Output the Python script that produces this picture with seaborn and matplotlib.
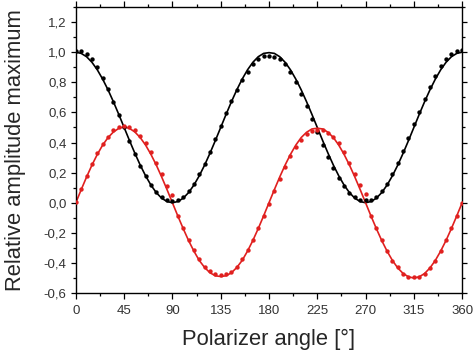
import numpy as np
import pandas as pd
import matplotlib
matplotlib.use("Agg")
import matplotlib.pyplot as plt
import seaborn as sns
from matplotlib.ticker import MultipleLocator, FuncFormatter

# ---- data ----
angles = list(range(0, 361, 5))

black_fit = [1.000, .992, .970, .933, .883, .821, .750, .671, .587, .500,
             .413, .329, .250, .179, .117, .067, .030, .008, .000, .008,
             .030, .067, .117, .179, .250, .329, .413, .500, .587, .671,
             .750, .821, .883, .933, .970, .992, .997, .992, .970, .933,
             .883, .821, .750, .671, .587, .500, .413, .329, .250, .179,
             .117, .067, .030, .008, .000, .008, .030, .067, .117, .179,
             .250, .329, .413, .500, .587, .671, .750, .821, .883, .933,
             .970, .992, 1.000]

black_pts = [1.010, 1.010, .990, .955, .900, .830, .755, .670, .585, .500,
             .410, .325, .245, .175, .120, .070, .035, .015, .010, .015,
             .035, .075, .125, .190, .260, .340, .425, .510, .595, .675,
             .750, .815, .870, .920, .955, .975, .975, .970, .955, .920,
             .870, .800, .720, .640, .555, .470, .385, .305, .230, .165,
             .110, .065, .035, .020, .015, .020, .040, .075, .125, .190,
             .265, .345, .430, .520, .605, .690, .770, .845, .905, .955,
             .990, 1.010, 1.015]

red_fit = [0.000, .087, .171, .250, .321, .383, .433, .470, .494, .505,
           .494, .470, .433, .383, .321, .250, .171, .087, .000, -.087,
           -.171, -.250, -.321, -.383, -.430, -.465, -.485, -.490, -.485, -.465,
           -.430, -.383, -.321, -.250, -.171, -.087, .000, .087, .171, .250,
           .321, .383, .433, .468, .490, .495, .490, .468, .433, .383,
           .321, .250, .171, .087, .000, -.087, -.171, -.250, -.321, -.383,
           -.433, -.470, -.492, -.500, -.492, -.470, -.433, -.383, -.321, -.250,
           -.171, -.087, .000]

red_pts = [0.005, .090, .180, .260, .330, .390, .440, .480, .500, .510,
           .505, .480, .445, .395, .335, .265, .190, .110, .050, -.090,
           -.170, -.245, -.315, -.375, -.425, -.455, -.475, -.480, -.475, -.460,
           -.425, -.375, -.315, -.245, -.170, -.090, -.005, .080, .160, .240,
           .310, .370, .420, .455, .475, .480, .480, .465, .440, .395,
           .335, .265, .190, .120, .060, -.090, -.170, -.250, -.320, -.385,
           -.430, -.470, -.490, -.495, -.490, -.470, -.435, -.385, -.320, -.250,
           -.170, -.085, .000]

x_ticks = [0, 45, 90, 135, 180, 225, 270, 315, 360]
y_ticks = [-0.6, -0.4, -0.2, 0.0, 0.2, 0.4, 0.6, 0.8, 1.0, 1.2]

df = pd.DataFrame({"angle": angles, "black_fit": black_fit, "black_pts": black_pts,
                   "red_fit": red_fit, "red_pts": red_pts})

sns.set_style("ticks")
plt.rcParams["font.family"] = ["Liberation Sans", "DejaVu Sans"]

RED = "#e0201f"
fig = plt.figure(figsize=(4.74, 3.51), dpi=100)
ax = fig.add_axes([0.160, 0.165, 0.815, 0.815])

sns.lineplot(data=df, x="angle", y="black_fit", color="black", lw=1.2, ax=ax)
sns.lineplot(data=df, x="angle", y="red_fit", color=RED, lw=1.2, ax=ax)
sns.scatterplot(data=df, x="angle", y="black_pts", color="black", s=10,
                linewidth=0, ax=ax, zorder=3)
sns.scatterplot(data=df, x="angle", y="red_pts", color=RED, s=10,
                linewidth=0, ax=ax, zorder=3)

ax.set_xlim(0, 360)
ax.set_ylim(-0.6, 1.3)
ax.set_xticks(x_ticks)
ax.set_yticks(y_ticks)
ax.xaxis.set_minor_locator(MultipleLocator(22.5))
ax.yaxis.set_minor_locator(MultipleLocator(0.1))
ax.yaxis.set_major_formatter(FuncFormatter(lambda v, p: f"{v:.1f}".replace(".", ",").replace("-0,0", "0,0")))

for s in ax.spines.values():
    s.set_visible(True)
    s.set_linewidth(1.0)
    s.set_color("black")

ax.tick_params(which="both", direction="out", top=True, right=True,
               labeltop=False, labelright=False, color="black", width=0.9)
ax.tick_params(which="major", length=3.6, labelsize=9.5, pad=3, labelcolor="#333333")
ax.tick_params(axis="x", which="major", length=4.3, pad=4)
ax.tick_params(which="minor", length=2.0)

ax.set_xlabel("Polarizer angle [°]", fontsize=15.8, labelpad=9)
ax.set_ylabel("Relative amplitude maximum", fontsize=15.8, labelpad=13)

fig.savefig("out.png", dpi=100)
